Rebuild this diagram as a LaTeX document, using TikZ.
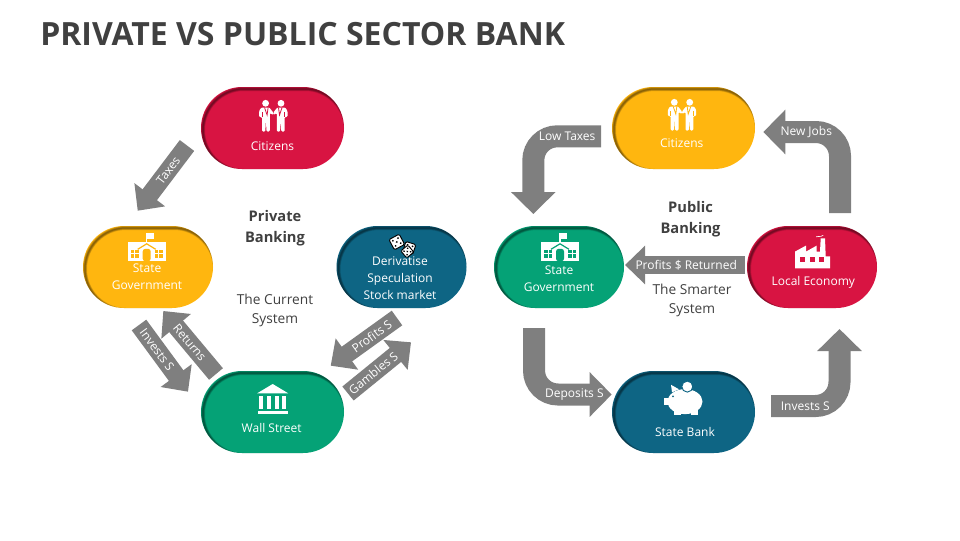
\documentclass[tikz,border=0pt]{standalone}
\usepackage{fontspec}
\setmainfont{Open Sans}
\usetikzlibrary{shapes.misc,arrows.meta}

\definecolor{crimsonfill}{HTML}{D81442}
\definecolor{amberfill}{HTML}{FFB60F}
\definecolor{greenfill}{HTML}{05A276}
\definecolor{tealfill}{HTML}{0E6584}
\definecolor{arrowgrey}{HTML}{7F7F7F}
\definecolor{inkgrey}{HTML}{404040}

\tikzset{
	pill/.style={shape=rounded rectangle,minimum height=61.5pt,inner sep=0pt,
		path picture={
			\foreach \w in {1,2,3,4}
				\draw[black,opacity=.14,line width=\w*.75pt,rounded corners=30.75pt]
					([xshift=1.5pt,yshift=-1.5pt]path picture bounding box.north west) rectangle
					([xshift=1.5pt,yshift=-1.5pt]path picture bounding box.south east);
		}},
	longpill/.style={pill,minimum width=107.25pt},
	shortpill/.style={pill,minimum width=97.5pt},
	pilltext/.style={text=white,align=center,inner sep=0pt,font=\fontsize{9}{12.75}\selectfont},
	headtext/.style={text=inkgrey,align=center,inner sep=0pt,font=\fontsize{11}{15.75}\selectfont\bfseries},
	notetext/.style={text=inkgrey,align=center,inner sep=0pt,font=\fontsize{10.3}{14.25}\selectfont},
	flowtext/.style={text=white,inner sep=0pt,font=\fontsize{9}{11}\selectfont},
	slimflow/.style={draw=arrowgrey,line width=13.5pt,-{Triangle[length=15pt,width=28pt]}},
	wideflow/.style={draw=arrowgrey,line width=16.5pt,rounded corners=18pt,-{Triangle[length=16.5pt,width=32.5pt]}},
	handshake/.pic={
		\foreach \s in {1,-1}{
			\begin{scope}[xscale=\s]
				\fill[white] (-7.7,-12.7) circle (3.4);
				\fill[white,rounded corners=.8pt] (-12,-8.5) -- (-4,-8.5) -- (0,-3.5) -- (0,-1) -- (-3.5,-3)
					-- (-3.5,15.5) -- (-6.8,15.5) -- (-7.4,4) -- (-8,15.5) -- (-11.3,15.5) -- (-11.3,1)
					-- (-14.2,1) -- (-14.2,-5) -- cycle;
				\draw[#1,line width=.6pt] (-11.3,-4) -- (-11.3,1);
				\draw[#1,line width=.6pt] (-8.8,-8.5) -- (-6.2,-1) -- (-5.2,-8.5);
			\end{scope}
		}
	},
	schoolhouse/.pic={
		\fill[white] (-19,-6) rectangle (19,12.3);
		\draw[white,line width=1pt] (0,-5) -- (0,-15);
		\fill[white] (0,-15.3) -- (7.3,-15.3) -- (7.3,-9.8) -- (0,-9.8) -- cycle;
		\draw[#1,line width=.9pt] (-9,1) -- (0,-4.5) -- (9,1);
		\foreach \x in {-12,12}{
			\fill[#1] (\x-4,1.7) rectangle (\x+4,9.3);
			\draw[white,line width=.5pt] (\x,1.7) -- (\x,9.3) (\x-4,5.5) -- (\x+4,5.5);
		}
		\fill[#1,rounded corners=2pt] (-4,13) -- (-4,.5) -- (4,.5) -- (4,13) -- cycle;
	},
	bankhall/.pic={
		\fill[white] (0,-15) -- (15.5,-5.7) -- (-15.5,-5.7) -- cycle;
		\foreach \x in {-11.5,-4,4,11.5}
			\fill[white] (\x-2,-3) rectangle (\x+2,10);
		\fill[white] (-15,11.7) rectangle (15,15);
	},
	dicegroup/.pic={
		\foreach \x/\y/\r/\d in {6/3/-18/5.2,-6.5/-3/28/5.8,4/6.5/40/4.6}{
			\begin{scope}[shift={(\x,\y)},rotate=\r]
				\draw[black,fill=white,line width=.7pt,rounded corners=1pt] (-\d,-\d) rectangle (\d,\d);
				\foreach \u/\v in {-.5/-.5,.5/.5,-.5/.5,.5/-.5,0/0}
					\fill[black] (\u*\d,\v*\d) circle (1);
			\end{scope}
		}
	},
	factoryblock/.pic={
		\fill[white] (-17.7,15) -- (-17.7,-1.7) -- (-6.7,-7.7) -- (-6.7,-1.7) -- (4,-7.7) -- (4,-1.7)
			-- (7.3,-1.7) -- (8,-15) -- (12.3,-15) -- (13,3) -- (17.3,3) -- (17.3,15) -- cycle;
		\foreach \x in {-10.5,-.5,9}
			\fill[#1] (\x-2.5,3.5) rectangle (\x+2.5,8.5);
		\draw[white,line width=.5pt] (3.5,-16.5) .. controls (5.5,-18) and (7,-15.5) .. (10.5,-18);
	},
	piggybox/.pic={
		\fill[white] (1,3.3) ellipse (17.5 and 12.5);
		\fill[white] (-19.7,-.5) rectangle (-13,6.5);
		\fill[white] (-12,-6) -- (-13,-13.5) -- (-5,-9) -- cycle;
		\fill[white] (-10,10) rectangle (-3,17);
		\fill[white] (7,10) rectangle (14,17);
		\fill[#1] (-11,-2) circle (1);
		\fill[white,draw=#1,line width=.7pt] (3.3,-11.7) circle (5.5);
	}
}

\begin{document}
\begin{tikzpicture}[x=.75pt,y=-.75pt]
	
	\useasboundingbox (0,0) rectangle (960,540);
	
	\node[anchor=west,inner sep=0pt,text=inkgrey,font=\fontsize{24}{28}\selectfont\bfseries] (title) at (40,34) {PRIVATE VS PUBLIC SECTOR BANK};
	
	\node[longpill,fill=crimsonfill] (citizensA) at (272.5,128) {};
	\node[shortpill,fill=amberfill] (stateA) at (148,267) {};
	\node[shortpill,fill=tealfill] (derivA) at (401.5,267) {};
	\node[longpill,fill=greenfill] (wallA) at (272.5,412) {};
	
	\node[longpill,fill=amberfill] (citizensB) at (683.5,128) {};
	\node[shortpill,fill=greenfill] (stateB) at (559,267) {};
	\node[shortpill,fill=crimsonfill] (localB) at (812,267) {};
	\node[longpill,fill=tealfill] (bankB) at (683.5,412) {};
	
	\pic (shakeA) at (273.3,116) {handshake=crimsonfill};
	\pic (schoolA) at (146.7,248.3) {schoolhouse=amberfill};
	\pic (dice) at (403.3,245) {dicegroup};
	\pic (hall) at (272.7,399) {bankhall};
	\pic (shakeB) at (682,115) {handshake=amberfill};
	\pic (schoolB) at (560,248.3) {schoolhouse=greenfill};
	\pic (factory) at (812.7,253.3) {factoryblock=crimsonfill};
	\pic (piggy) at (684,398.3) {piggybox=tealfill};
	
	\node[pilltext] (citizensAtext) at (272.5,146) {Citizens};
	\node[pilltext] (stateAtext) at (147,277) {State\\Government};
	\node[pilltext] (derivAtext) at (400,278) {Derivatise\\Speculation\\Stock market};
	\node[pilltext] (wallAtext) at (271.7,428) {Wall Street};
	\node[pilltext] (citizensBtext) at (681.7,143) {Citizens};
	\node[pilltext] (stateBtext) at (559,279) {State\\Government};
	\node[pilltext] (localBtext) at (813.3,282.7) {Local Economy};
	\node[pilltext] (bankBtext) at (685,431.7) {State Bank};
	
	\node[headtext] (privatehead) at (275,228) {Private\\Banking};
	\node[headtext] (publichead) at (690.5,219) {Public\\Banking};
	\node[notetext] (currentnote) at (275,310.5) {The Current\\System};
	\node[notetext] (smarternote) at (692,300.5) {The Smarter\\System};
	
	\coordinate (taxesTail) at (187,145.5);
	\coordinate (taxesTip) at (137.7,210.7);
	\coordinate (investsTail) at (139,325);
	\coordinate (investsTip) at (188,391.7);
	\coordinate (returnsTail) at (216,374);
	\coordinate (returnsTip) at (163.3,311);
	\coordinate (profitsTail) at (397,318);
	\coordinate (profitsTip) at (330.7,365.7);
	\coordinate (gamblesTail) at (348,393.5);
	\coordinate (gamblesTip) at (411,342.3);
	\coordinate (lowTail) at (601,136.3);
	\coordinate (lowTip) at (533.3,214);
	\coordinate (jobsTail) at (840,213);
	\coordinate (jobsTip) at (763.3,132);
	\coordinate (returnedTail) at (745,265);
	\coordinate (returnedTip) at (625,265);
	\coordinate (depositsTail) at (534,328);
	\coordinate (depositsTip) at (611.7,394.5);
	\coordinate (bankinvestTail) at (771,406);
	\coordinate (bankinvestTip) at (839.5,329);
	
	\path[slimflow] (taxesTail) -- node[flowtext,sloped,pos=.38] (taxeslabel) {Taxes} (taxesTip);
	\path[slimflow] (investsTail) -- node[flowtext,sloped,pos=.37] (investslabel) {Invests S} (investsTip);
	\path[slimflow] (returnsTail) -- node[flowtext,sloped,pos=.5] (returnslabel) {Returns} (returnsTip);
	\path[slimflow] (profitsTail) -- node[flowtext,sloped,pos=.38] (profitslabel) {Profits S} (profitsTip);
	\path[slimflow] (gamblesTail) -- node[flowtext,sloped,pos=.4] (gambleslabel) {Gambles S} (gamblesTip);
	\path[slimflow] (returnedTail) -- node[flowtext,pos=.49] (returnedlabel) {Profits \$ Returned} (returnedTip);
	
	\path[wideflow] (lowTail) -| node[flowtext,pos=.25] (lowlabel) {Low Taxes} (lowTip);
	\path[wideflow] (jobsTail) |- node[flowtext,pos=.72] (jobslabel) {New Jobs} (jobsTip);
	\path[wideflow] (depositsTail) |- node[flowtext,pos=.76] (depositslabel) {Deposits S} (depositsTip);
	\path[wideflow] (bankinvestTail) -| node[flowtext,pos=.25] (bankinvestlabel) {Invests S} (bankinvestTip);
	
\end{tikzpicture}
\end{document}
